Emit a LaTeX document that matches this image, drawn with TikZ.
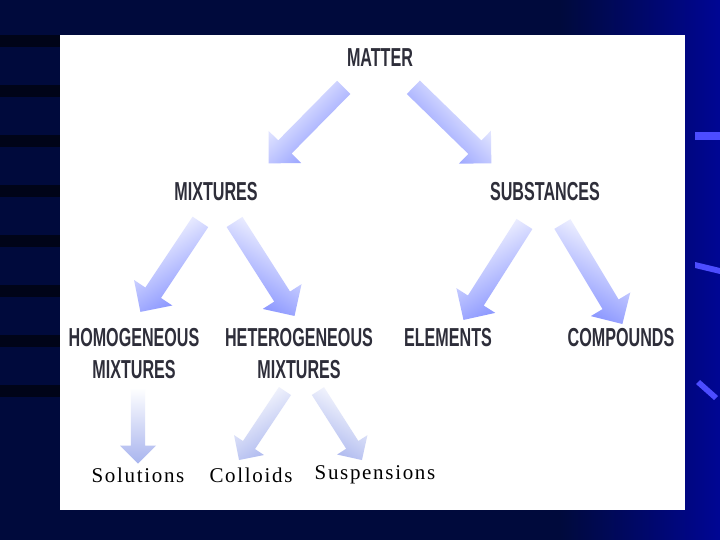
\documentclass[tikz,border=0pt]{standalone}
\usepackage{fontspec}
\setmainfont{Liberation Serif}
\newfontfamily\lbl{Liberation Sans}
\usetikzlibrary{shapes.arrows,calc}
\definecolor{navy}{HTML}{000A3C}
\definecolor{arblue}{HTML}{7F8CFF}
\definecolor{argrey}{HTML}{A8B4EE}
\definecolor{txt}{HTML}{2E2E3A}
\tikzset{
 lab/.style={font=\lbl\bfseries\fontsize{26}{32}\selectfont,text=txt,xscale=0.62,align=center,inner sep=0},
 sol/.style={font=\fontsize{21}{26}\selectfont\addfontfeature{LetterSpace=8},text=black,inner sep=0},
 barr/.style={shape=single arrow,draw=none,minimum width=46pt,single arrow head extend=9pt,single arrow head indent=0pt,inner sep=6pt,left color=white,right color=arblue},
 sarr/.style={barr,minimum width=36pt,single arrow head extend=7pt,inner sep=4.5pt,right color=argrey}
}
\newcommand{\blkarrow}[3]{\path let \p1=($(#3)-(#2)$),\n1={atan2(\y1,\x1)},\n2={veclen(\x1,\y1)} in node[#1,shading angle={270-\n1},rotate=\n1,minimum height=\n2] at ($(#2)!0.5!(#3)$) {};}
\begin{document}
\begin{tikzpicture}[x=1pt,y=-1pt]
\useasboundingbox (0,0) rectangle (720,540);
\fill[navy] (0,0) rectangle (720,540);
\shade[left color=navy,right color=blue!45!navy] (560,0) rectangle (720,540);
\foreach \y in {35,85,135,185,235,285,335,385}
 \fill[black!60!navy] (0,\y) rectangle (60,\y+12);
\fill[blue!70!white] (695,132) rectangle (720,140);
\fill[blue!70!white] (695,262) -- (720,268) -- (720,274) -- (695,268) -- cycle;
\fill[blue!70!white] (700,380) -- (718,396) -- (714,400) -- (696,384) -- cycle;
\fill[white] (60,35) rectangle (685,510);
\node[lab] (matter) at (380,58) {MATTER};
\node[lab] (mix) at (216,192) {MIXTURES};
\node[lab] (sub) at (545,192) {SUBSTANCES};
\node[lab] (homo) at (134,354) {HOMOGENEOUS\\MIXTURES};
\node[lab] (het) at (299,354) {HETEROGENEOUS\\MIXTURES};
\node[lab] (el) at (448,338) {ELEMENTS};
\node[lab] (comp) at (621,338) {COMPOUNDS};
\node[sol] (s1) at (138,475) {Solutions};
\node[sol] (s2) at (251,475) {Colloids};
\node[sol] (s3) at (375,475) {Suspensions};
\coordinate (a1) at (347,84); \coordinate (b1) at (272,160);
\coordinate (a2) at (410,84); \coordinate (b2) at (488,160);
\coordinate (a3) at (203,218); \coordinate (b3) at (143,308);
\coordinate (a4) at (232,218); \coordinate (b4) at (292,312);
\coordinate (a5) at (527,220); \coordinate (b5) at (466,316);
\coordinate (a6) at (560,220); \coordinate (b6) at (620,320);
\coordinate (a7) at (138,384); \coordinate (b7) at (138,460);
\coordinate (a8) at (287,388); \coordinate (b8) at (241,457);
\coordinate (a9) at (316,388); \coordinate (b9) at (360,457);
\blkarrow{barr}{a1}{b1}
\blkarrow{barr}{a2}{b2}
\blkarrow{barr}{a3}{b3}
\blkarrow{barr}{a4}{b4}
\blkarrow{barr}{a5}{b5}
\blkarrow{barr}{a6}{b6}
\blkarrow{sarr}{a7}{b7}
\blkarrow{sarr}{a8}{b8}
\blkarrow{sarr}{a9}{b9}
\end{tikzpicture}
\end{document}
